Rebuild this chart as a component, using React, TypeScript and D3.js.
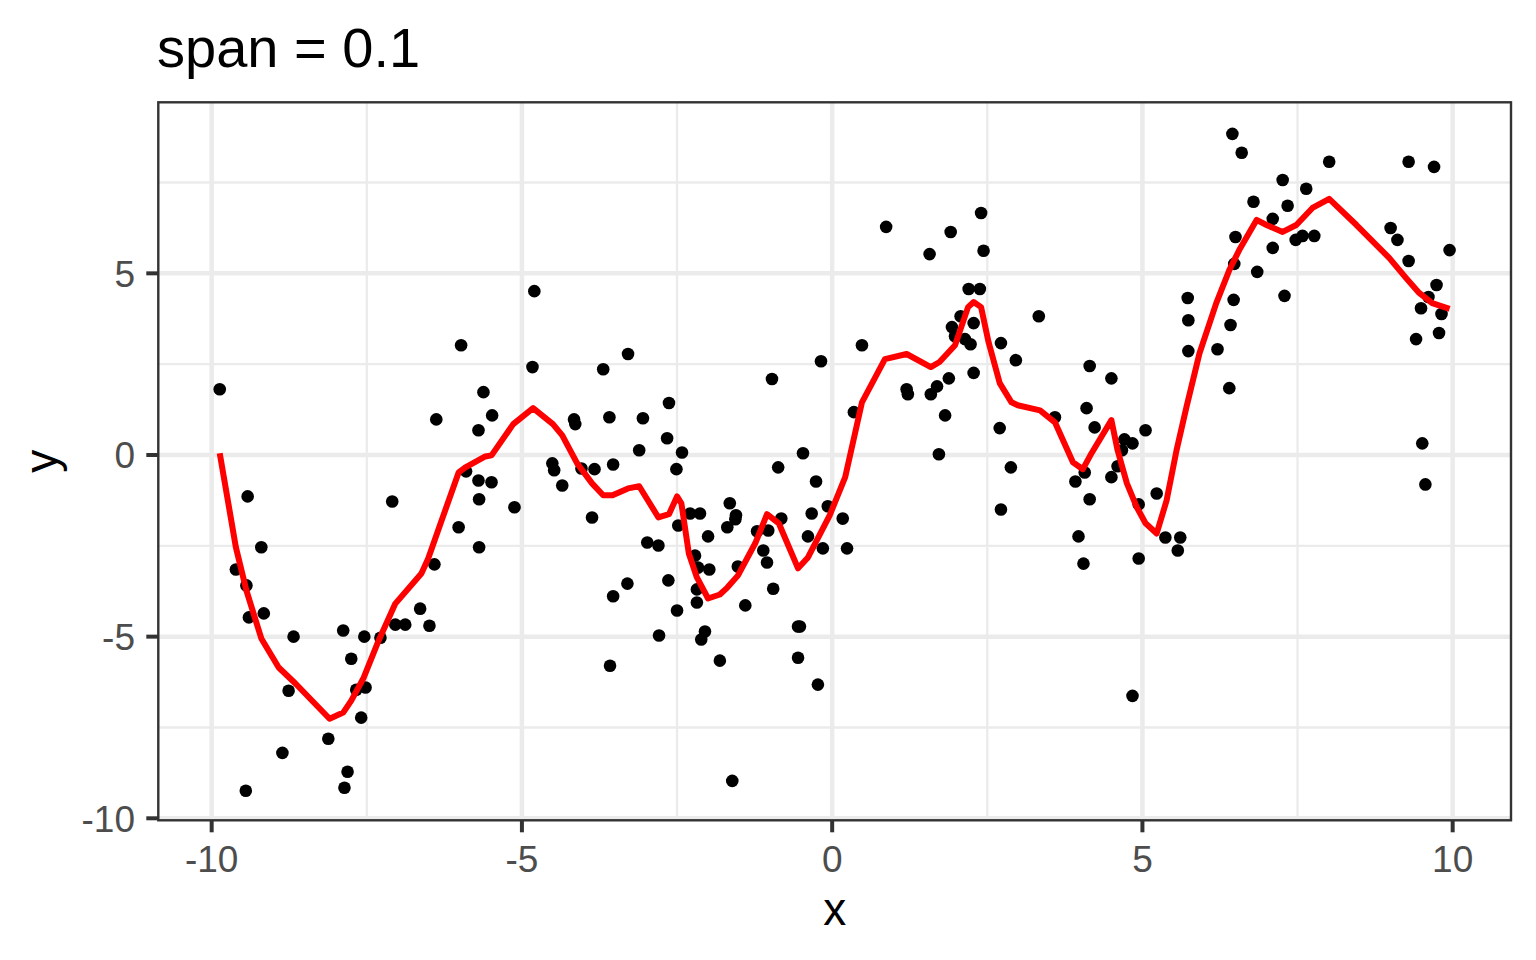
import React from "react";
import * as d3 from "d3";

const W = 1536;
const H = 960;

const title = "span = 0.1";
const xLabel = "x";
const yLabel = "y";

const xMajor = [-10, -5, 0, 5, 10];
const xMinor = [-7.5, -2.5, 2.5, 7.5];
const yMajor = [-10, -5, 0, 5];
const yMinor = [-7.5, -2.5, 2.5, 7.5];
const xTickLabels = ["-10", "-5", "0", "5", "10"];
const yTickLabels = ["-10", "-5", "0", "5"];

const xDomain = [-10.86, 10.94];
const yDomain = [-10.055, 9.708];

// scatter points
const px = [
  -9.87, -9.61, -9.42, -9.2, -9.44, -9.4, -9.16, -9.45, -8.68, -8.76,
  -8.86, -8.12, -7.88, -7.75, -7.86, -7.81, -7.67, -7.52, -7.59, -7.54,
  -7.28, -7.09, -7.04, -6.88, -6.64, -6.49, -6.41, -6.38, -6.02, -5.98,
  -5.9, -5.7, -5.7, -5.69, -5.69, -5.62, -5.49, -5.48, -5.12, -4.83,
  -4.8, -4.51, -4.48, -4.35, -4.16, -4.14, -4.04, -3.87, -3.83, -3.69,
  -3.59, -3.53, -3.53, -3.58, -3.29, -3.3, -3.11, -3.05, -2.98, -2.8,
  -2.79, -2.66, -2.63, -2.64, -2.51, -2.48, -2.5, -2.42, -2.29, -2.13,
  -2.21, -2.18, -2.16, -2.18, -2.11, -2.05, -2.0, -1.98, -1.81, -1.69,
  -1.65, -1.61, -1.55, -1.56, -1.52, -1.4, -1.21, -1.11, -1.05, -1.03,
  -0.97, -0.95, -0.87, -0.82, -0.55, -0.52, -0.55, -0.47, -0.39, -0.33,
  -0.26, -0.18, -0.23, -0.15, -0.07, 0.17, 0.24, 0.35, 0.48, 0.87,
  1.2, 1.22, 1.57, 1.59, 1.69, 1.72, 1.82, 1.88, 1.91, 1.93,
  1.98, 2.07, 2.14, 2.2, 2.23, 2.28, 2.28, 2.38, 2.4, 2.44,
  2.7, 2.72, 2.72, 2.88, 2.96, 3.33, 3.59, 3.92, 3.97, 4.05,
  4.07, 4.1, 4.15, 4.15, 4.23, 4.5, 4.5, 4.6, 4.67, 4.71,
  4.84, 4.84, 4.94, 4.94, 5.05, 5.23, 5.37, 5.57, 5.61, 5.73,
  5.74, 5.74, 6.21, 6.4, 6.42, 6.47, 6.48, 6.5, 6.45, 6.6,
  6.79, 6.85, 7.1, 7.1, 7.26, 7.29, 7.34, 7.47, 7.58, 7.64,
  7.77, 8.01, 9.0, 9.11, 9.29, 9.29, 9.41, 9.49, 9.51, 9.56,
  9.61, 9.7, 9.74, 9.78, 9.82, 9.95,
];
const py = [
  1.81, -3.15, -1.14, -2.54, -3.59, -4.47, -4.36, -9.24, -5.0, -6.49,
  -8.2, -7.81, -4.83, -5.61, -9.16, -8.72, -6.46, -6.4, -7.23, -5.0,
  -5.03, -1.28, -4.67, -4.67, -4.23, -4.7, -3.01, 0.98, -1.99, 3.02,
  -0.45, 0.68, -0.7, -1.22, -2.54, 1.73, -0.75, 1.09, -1.44, 2.42,
  4.51, -0.23, -0.42, -0.84, 0.98, 0.85, -0.37, -1.72, -0.39, 2.36,
  1.04, -0.26, -3.89, -5.8, 2.78, -3.54, 0.13, 1.01, -2.41, -2.49,
  -4.97, 0.46, 1.43, -3.45, -0.39, -1.94, -4.28, 0.07, -1.61, -1.61,
  -2.77, -3.7, -3.1, -4.06, -5.08, -4.86, -2.24, -3.15, -5.66, -1.99,
  -1.33, -8.97, -1.66, -1.77, -3.07, -4.14, -2.1, -2.63, -2.96, -2.08,
  2.09, -3.68, -0.34, -1.75, -4.72, -4.72, -5.58, 0.05, -2.24, -1.61,
  -0.73, 2.58, -6.32, -2.57, -1.41, -1.75, -2.57, 1.18, 3.02, 6.28,
  1.81, 1.67, 5.53, 1.67, 1.89, 0.02, 1.09, 2.11, 6.14, 3.52,
  3.27, 3.82, 3.19, 4.57, 3.05, 3.63, 2.26, 4.57, 6.66, 5.62,
  0.74, 3.08, -1.5, -0.34, 2.61, 3.82, 1.04, -0.73, -2.24, -2.99,
  -0.48, 1.29, 2.45, -1.22, 0.76, 2.11, -0.61, -0.31, 0.13, 0.43,
  0.32, -6.63, -1.36, -2.85, 0.68, -1.06, -2.27, -2.63, -2.27, 4.32,
  3.71, 2.86, 2.91, 1.84, 3.58, 4.27, 5.26, 6.0, 8.84, 8.32,
  6.97, 5.04, 6.5, 5.7, 7.57, 4.38, 6.86, 5.92, 6.03, 7.33,
  6.03, 8.07, 6.25, 5.92, 8.07, 5.34, 3.19, 4.04, 0.32, -0.81,
  4.35, 7.93, 4.68, 3.36, 3.88, 5.64,
];

// loess (span = 0.1) curve
const smoothX = [
  -9.87, -9.61, -9.44, -9.2, -8.92, -8.65, -8.1, -7.88, -7.75, -7.55,
  -7.31, -7.04, -6.62, -6.51, -6.31, -6.02, -5.91, -5.59, -5.49, -5.14,
  -4.82, -4.5, -4.35, -4.11, -3.87, -3.69, -3.54, -3.29, -3.11, -2.8,
  -2.63, -2.5, -2.43, -2.31, -2.18, -2.0, -1.81, -1.69, -1.52, -1.24,
  -1.05, -0.86, -0.55, -0.39, -0.04, 0.21, 0.48, 0.85, 1.2, 1.59,
  1.73, 1.98, 2.19, 2.28, 2.4, 2.52, 2.7, 2.89, 2.99, 3.35,
  3.59, 3.88, 4.04, 4.18, 4.5, 4.6, 4.75, 4.91, 5.05, 5.23,
  5.39, 5.55, 5.71, 5.92, 6.19, 6.4, 6.56, 6.84, 7.0, 7.26,
  7.48, 7.74, 8.01, 8.45, 8.98, 9.25, 9.46, 9.67, 9.95,
];
const smoothY = [
  0.05, -2.54, -3.73, -5.05, -5.85, -6.29, -7.26, -7.09, -6.76, -6.13,
  -5.11, -4.09, -3.26, -2.85, -1.88, -0.48, -0.34, -0.04, -0.01, 0.85,
  1.29, 0.85, 0.54, -0.23, -0.78, -1.11, -1.11, -0.92, -0.86, -1.72,
  -1.63, -1.14, -1.33, -2.71, -3.37, -3.95, -3.84, -3.65, -3.32, -2.43,
  -1.63, -1.88, -3.12, -2.82, -1.66, -0.61, 1.45, 2.64, 2.78, 2.42,
  2.56, 3.02, 4.07, 4.21, 4.07, 3.11, 1.98, 1.45, 1.37, 1.23,
  0.9, -0.2, -0.39, 0.05, 0.96, 0.13, -0.78, -1.44, -1.88, -2.16,
  -1.25, 0.13, 1.32, 2.8, 4.18, 5.09, 5.64, 6.47, 6.33, 6.14,
  6.33, 6.8, 7.05, 6.33, 5.42, 4.87, 4.46, 4.18, 4.02,
];

const FONT = "'Liberation Sans', Arial, Helvetica, sans-serif";

export default function App() {
  const left = 158.3;
  const right = 1511;
  const top = 102.3;
  const bottom = 820.3;

  const x = d3.scaleLinear().domain(xDomain).range([left, right]);
  const y = d3.scaleLinear().domain(yDomain).range([bottom, top]);

  const line = d3
    .line<number>()
    .x((_, i) => x(smoothX[i]))
    .y((_, i) => y(smoothY[i]));

  const gridColor = "#EBEBEB";
  const axisColor = "#333333";
  const tickText = "#4D4D4D";

  return (
    <svg
      width={W}
      height={H}
      viewBox={`0 0 ${W} ${H}`}
      style={{ position: "absolute", left: 0, top: 0, background: "#fff" }}
    >
      <rect x={0} y={0} width={W} height={H} fill="#fff" />
      <text x={157} y={67} fontFamily={FONT} fontSize={56} fill="#000">
        {title}
      </text>

      {/* minor grid */}
      {xMinor.map((v) => (
        <line key={"xm" + v} x1={x(v)} x2={x(v)} y1={top} y2={bottom} stroke={gridColor} strokeWidth={2.3} />
      ))}
      {yMinor.map((v) => (
        <line key={"ym" + v} x1={left} x2={right} y1={y(v)} y2={y(v)} stroke={gridColor} strokeWidth={2.3} />
      ))}
      {/* major grid */}
      {xMajor.map((v) => (
        <line key={"xM" + v} x1={x(v)} x2={x(v)} y1={top} y2={bottom} stroke={gridColor} strokeWidth={4.5} />
      ))}
      {yMajor.map((v) => (
        <line key={"yM" + v} x1={left} x2={right} y1={y(v)} y2={y(v)} stroke={gridColor} strokeWidth={4.5} />
      ))}

      {/* points */}
      {px.map((v, i) => (
        <circle key={"p" + i} cx={x(v)} cy={y(py[i])} r={6.3} fill="#000" />
      ))}

      {/* smooth line */}
      <path
        d={line(smoothX) || ""}
        fill="none"
        stroke="#FF0000"
        strokeWidth={6}
        strokeLinejoin="round"
      />

      {/* panel border */}
      <rect
        x={left}
        y={top}
        width={right - left}
        height={bottom - top}
        fill="none"
        stroke={axisColor}
        strokeWidth={2.4}
      />

      {/* x ticks */}
      {xMajor.map((v, i) => (
        <g key={"xt" + v}>
          <line x1={x(v)} x2={x(v)} y1={bottom} y2={bottom + 12} stroke={axisColor} strokeWidth={4} />
          <text
            x={x(v)}
            y={872}
            textAnchor="middle"
            fontFamily={FONT}
            fontSize={37}
            fill={tickText}
          >
            {xTickLabels[i]}
          </text>
        </g>
      ))}
      {/* y ticks */}
      {yMajor.map((v, i) => (
        <g key={"yt" + v}>
          <line x1={left - 12} x2={left} y1={y(v)} y2={y(v)} stroke={axisColor} strokeWidth={4} />
          <text
            x={135}
            y={y(v) + 13.3}
            textAnchor="end"
            fontFamily={FONT}
            fontSize={37}
            fill={tickText}
          >
            {yTickLabels[i]}
          </text>
        </g>
      ))}

      {/* axis titles */}
      <text
        x={(left + right) / 2}
        y={925}
        textAnchor="middle"
        fontFamily={FONT}
        fontSize={46}
        fill="#000"
      >
        {xLabel}
      </text>
      <text
        transform={`translate(57, ${(top + bottom) / 2}) rotate(-90)`}
        textAnchor="middle"
        fontFamily={FONT}
        fontSize={46}
        fill="#000"
      >
        {yLabel}
      </text>
    </svg>
  );
}
